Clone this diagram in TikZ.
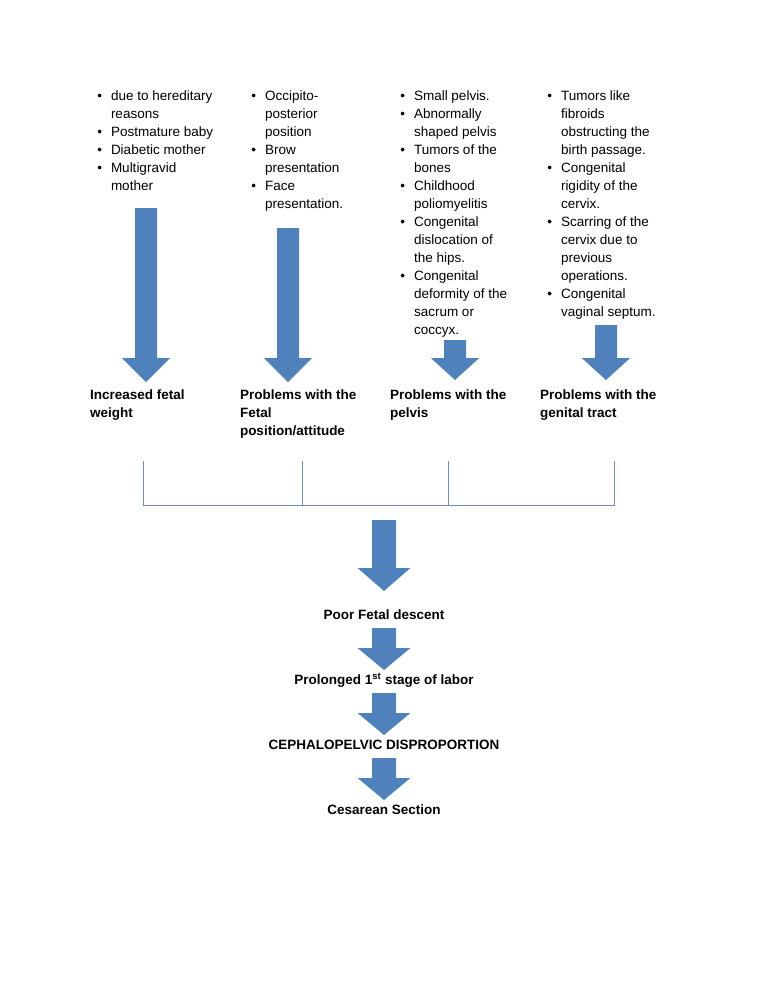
\documentclass[tikz,border=0pt]{standalone}
\usepackage{fontspec}
\setmainfont{Liberation Sans}
\usetikzlibrary{positioning}

\definecolor{arrowblue}{RGB}{79,129,189}
\definecolor{linkblue}{RGB}{110,140,190}

\newcommand{\blockarrow}[5]{% centre x, top y, head y, tip y, half shaft
  \fill[arrowblue] (#1-#5,#2) -- (#1+#5,#2) -- (#1+#5,#3) -- (#1+2.2*#5,#3)
    -- (#1,#4) -- (#1-2.2*#5,#3) -- (#1-#5,#3) -- cycle;}

\newenvironment{causes}{\begin{list}{\textbullet}{\setlength{\leftmargin}{21pt}%
  \setlength{\labelwidth}{12pt}\setlength{\labelsep}{9pt}\setlength{\itemsep}{0pt}%
  \setlength{\parsep}{0pt}\setlength{\topsep}{0pt}}\raggedright}{\end{list}}

\begin{document}
\begin{tikzpicture}[x=1pt, y=-1pt,
    every node/.style={inner sep=0pt, outer sep=0pt},
    list/.style={anchor=north west, font=\fontsize{13.5}{18}\selectfont, align=left},
    head/.style={anchor=north west, font=\fontsize{13.5}{18}\selectfont\bfseries, align=left},
    outcome/.style={font=\fontsize{13.5}{18}\selectfont\bfseries}]
  \useasboundingbox (0,0) rectangle (768,994);

  % Cause lists
  \node[list] (weight) at (90,91) {\begin{minipage}{145pt}\begin{causes}
    \item due to hereditary\\reasons
    \item Postmature baby
    \item Diabetic mother
    \item Multigravid\\mother
  \end{causes}\end{minipage}};
  \node[list] (position) at (244,91) {\begin{minipage}{140pt}\begin{causes}
    \item Occipito-\\posterior\\position
    \item Brow\\presentation
    \item Face\\presentation.
  \end{causes}\end{minipage}};
  \node[list] (pelvis) at (393,91) {\begin{minipage}{140pt}\begin{causes}
    \item Small pelvis.
    \item Abnormally\\shaped pelvis
    \item Tumors of the\\bones
    \item Childhood\\poliomyelitis
    \item Congenital\\dislocation of\\the hips.
    \item Congenital\\deformity of the\\sacrum or\\coccyx.
  \end{causes}\end{minipage}};
  \node[list] (tract) at (540,91) {\begin{minipage}{140pt}\begin{causes}
    \item Tumors like\\fibroids\\obstructing the\\birth passage.
    \item Congenital\\rigidity of the\\cervix.
    \item Scarring of the\\cervix due to\\previous\\operations.
    \item Congenital\\vaginal septum.
  \end{causes}\end{minipage}};

  % Arrows to the groups
  \blockarrow{146}{208}{358}{382}{11}
  \blockarrow{288}{228}{358}{382}{11}
  \blockarrow{455}{340}{358}{380}{11}
  \blockarrow{606}{325}{358}{380}{11}

  % Groups
  \node[head] (hweight) at (90,390) {Increased fetal\\weight};
  \node[head] (hposition) at (240,390) {Problems with the\\Fetal\\position/attitude};
  \node[head] (hpelvis) at (390,390) {Problems with the\\pelvis};
  \node[head] (htract) at (540,390) {Problems with the\\genital tract};

  % Bracket
  \coordinate (b1) at (143,461);
  \coordinate (b2) at (302,461);
  \coordinate (b3) at (448,461);
  \coordinate (b4) at (614,461);
  \draw[linkblue, thin] (b1) -- (b1 |- 0,505) -- (b4 |- 0,505) -- (b4);
  \draw[linkblue, thin] (b2) -- (b2 |- 0,505);
  \draw[linkblue, thin] (b3) -- (b3 |- 0,505);

  % Outcome chain
  \blockarrow{384}{520}{568}{591}{12}
  \node[outcome] (descent) at (384,615) {Poor Fetal descent};
  \blockarrow{384}{628}{648}{670}{12}
  \node[outcome] (labor) at (384,680) {Prolonged 1\textsuperscript{st} stage of labor};
  \blockarrow{384}{693}{713}{735}{12}
  \node[outcome] (cpd) at (384,745) {CEPHALOPELVIC DISPROPORTION};
  \blockarrow{384}{758}{778}{800}{12}
  \node[outcome] (cs) at (384,810) {Cesarean Section};
\end{tikzpicture}
\end{document}
